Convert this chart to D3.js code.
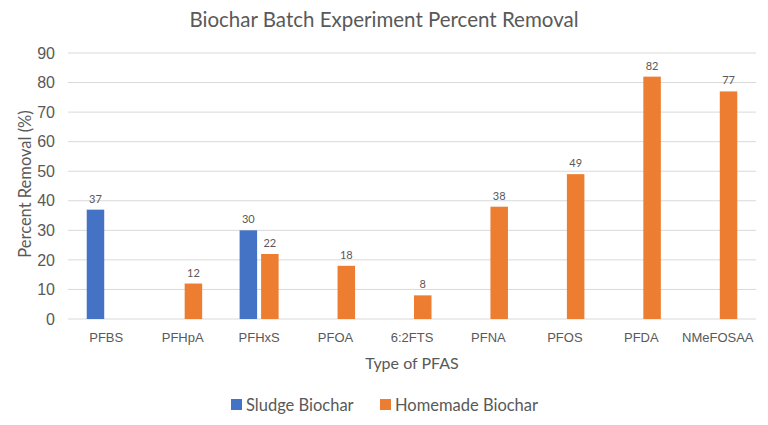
<!DOCTYPE html>
<html>
<head>
<meta charset="utf-8">
<script src="https://cdn.jsdelivr.net/npm/d3@7/dist/d3.min.js"></script>
<style>
  body { margin: 0; background: #fff; }
  svg { display: block; font-family: Lato, "Open Sans", sans-serif; }
</style>
</head>
<body>
<svg id="chart" width="768" height="425"></svg>
<script>
// Daten
const categories = ['PFBS', 'PFHpA', 'PFHxS', 'PFOA', '6:2FTS', 'PFNA', 'PFOS', 'PFDA', 'NMeFOSAA'];
const sludge = [37, null, 30, null, null, null, null, null, null];
const homemade = [null, 12, 22, 18, 8, 38, 49, 82, 77];
const seriesNames = ['Sludge Biochar', 'Homemade Biochar'];
const seriesColors = ['#4472C4', '#ED7D31'];
const yTicks = [0, 10, 20, 30, 40, 50, 60, 70, 80, 90];

const W = 768, H = 425;
const m = { left: 68, right: 12, top: 53, bottom: 106 };
const textCol = '#595959';

const svg = d3.select('#chart');

const x = d3.scaleBand().domain(categories).range([m.left, W - m.right]).padding(0);
const y = d3.scaleLinear().domain([0, 90]).range([H - m.bottom, m.top]);

// Gitterlinien
svg.append('g')
  .selectAll('line')
  .data(yTicks)
  .join('line')
  .attr('x1', m.left).attr('x2', W - m.right)
  .attr('y1', d => y(d)).attr('y2', d => y(d))
  .attr('stroke', '#D9D9D9').attr('stroke-width', 1);

// y-Achse Beschriftung
const yAxis = svg.append('g')
  .attr('transform', `translate(${m.left - 13},0)`)
  .call(d3.axisLeft(y).tickValues(yTicks).tickSize(0).tickPadding(0));
yAxis.select('.domain').remove();
yAxis.selectAll('text').attr('fill', textCol).style('font-size', '16px');

// x-Achse Beschriftung
const xAxis = svg.append('g')
  .attr('transform', `translate(0,${y(0)})`)
  .call(d3.axisBottom(x).tickSize(0).tickPadding(14));
xAxis.select('.domain').remove();
xAxis.selectAll('text').attr('fill', textCol).style('font-size', '13px');

// Balken
const barW = 17.5, gap = 4;
const rows = [];
categories.forEach((c, i) => {
  [sludge[i], homemade[i]].forEach((v, s) => {
    if (v === null) return;
    rows.push({ c, v, s });
  });
});

const xPos = d => {
  const mid = x(d.c) + x.bandwidth() / 2;
  return d.s === 0 ? mid - gap / 2 - barW : mid + gap / 2;
};

svg.append('g')
  .selectAll('rect')
  .data(rows)
  .join('rect')
  .attr('x', xPos)
  .attr('y', d => y(d.v))
  .attr('width', barW)
  .attr('height', d => y(0) - y(d.v))
  .attr('fill', d => seriesColors[d.s]);

svg.append('g')
  .selectAll('text')
  .data(rows)
  .join('text')
  .attr('x', d => xPos(d) + barW / 2)
  .attr('y', d => y(d.v) - 7)
  .attr('text-anchor', 'middle')
  .attr('fill', textCol)
  .style('font-size', '11px')
  .text(d => d.v);

// Titel
svg.append('text')
  .attr('x', W / 2).attr('y', 27)
  .attr('text-anchor', 'middle')
  .attr('fill', textCol)
  .style('font-size', '20.5px')
  .text('Biochar Batch Experiment Percent Removal');

// Achsentitel
svg.append('text')
  .attr('x', (m.left + W - m.right) / 2).attr('y', 369)
  .attr('text-anchor', 'middle')
  .attr('fill', textCol)
  .style('font-size', '16px')
  .text('Type of PFAS');

svg.append('text')
  .attr('transform', `translate(31,${(y(0) + y(90)) / 2 - 2}) rotate(-90)`)
  .attr('text-anchor', 'middle')
  .attr('fill', textCol)
  .style('font-size', '16.5px')
  .text('Percent Removal (%)');

// Legende
const legX = [231, 380];
const leg = svg.append('g')
  .selectAll('g')
  .data(seriesNames)
  .join('g')
  .attr('transform', (d, i) => `translate(${legX[i]},405)`);
leg.append('rect')
  .attr('x', 0).attr('y', -6)
  .attr('width', 11).attr('height', 11)
  .attr('fill', (d, i) => seriesColors[i]);
leg.append('text')
  .attr('x', 15).attr('y', 5.5)
  .attr('fill', textCol)
  .style('font-size', '16.5px')
  .text(d => d);
</script>
</body>
</html>
